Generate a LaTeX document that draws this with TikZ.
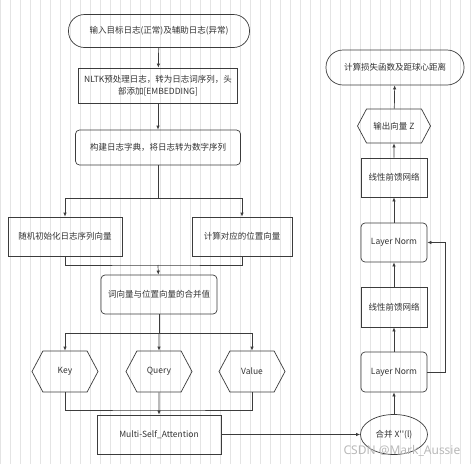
\documentclass[tikz,border=0pt]{standalone}
\usepackage{fontspec}
\newfontfamily\cjk{Noto Sans CJK SC}
\usetikzlibrary{shapes.geometric,shapes.symbols,arrows.meta}
\definecolor{linec}{HTML}{3C3C3C}
\definecolor{textc}{HTML}{333333}
\definecolor{gridc}{HTML}{E4E4E4}
\tikzset{
  base/.style={draw=linec, line width=0.7pt, text=textc, align=center,
    inner sep=1pt, font=\cjk\fontsize{8.5}{11.5}\selectfont},
  term/.style={base, rectangle, rounded corners=16pt},
  proc/.style={base, rectangle},
  rproc/.style={base, rectangle, rounded corners=4pt},
  hexa/.style={base, signal, signal to=east and west, signal pointer angle=124},
  merge/.style={base, ellipse},
  link/.style={draw=linec, line width=0.7pt},
  arrow/.style={link, -{Latex[length=4pt,width=3.5pt]}},
}
\begin{document}
\begin{tikzpicture}[x=1pt, y=-1pt]
    \fill[white] (0,0) rectangle (474,464);
    \useasboundingbox (0,0) rectangle (474,464);
    \draw[gridc, line width=0.4pt] (0,0) grid[step=10] (474,464);
    % left column
    \node[term,  minimum width=181pt, minimum height=33pt] (start)   at (159,31)    {输入目标日志(正常)及辅助日志(异常)};
    \node[proc,  minimum width=159pt, minimum height=35pt] (nltk)    at (158,85.5)  {NLTK预处理日志，转为日志词序列，头\\部添加[EMBEDDING]};
    \node[rproc, minimum width=165pt, minimum height=35pt] (build)   at (158,147.5) {构建日志字典，将日志转为数字序列};
    \node[proc,  minimum width=114pt, minimum height=39pt] (randvec) at (65,236.5)  {随机初始化日志序列向量};
    \node[proc,  minimum width=100pt, minimum height=39pt] (posvec)  at (242,236.5) {计算对应的位置向量};
    \node[rproc, minimum width=116pt, minimum height=39pt] (sumvec)  at (159,294.5) {词向量与位置向量的合并值};
    \node[hexa,  minimum width=66pt,  minimum height=41pt] (key)     at (65,371.5)  {Key};
    \node[hexa,  minimum width=66pt,  minimum height=41pt] (query)   at (159,371.5) {Query};
    \node[hexa,  minimum width=66pt,  minimum height=41pt] (value)   at (252,371.5) {Value};
    \node[proc,  minimum width=124pt, minimum height=39pt] (attn)    at (159,434.5) {Multi-Self\_Attention};
    % right column
    \node[merge, minimum width=67pt,  minimum height=40pt] (concat)  at (394,434.5) {合并 X''(l)};
    \node[rproc, minimum width=66pt,  minimum height=40pt] (norm1)   at (394,372)   {Layer Norm};
    \node[proc,  minimum width=66pt,  minimum height=40pt] (ffn1)    at (394,307)   {线性前馈网络};
    \node[rproc, minimum width=66pt,  minimum height=39pt] (norm2)   at (394,242.5) {Layer Norm};
    \node[proc,  minimum width=66pt,  minimum height=39pt] (ffn2)    at (394,177.5) {线性前馈网络};
    \node[hexa,  minimum width=73pt,  minimum height=34pt] (outz)    at (394,126)   {输出向量 Z};
    \node[term,  minimum width=138pt, minimum height=35pt, rounded corners=17pt] (loss) at (395,67.5) {计算损失函数及距球心距离};
    \node[text=gray!55, font=\fontspec{Noto Sans}\fontsize{12}{14}\selectfont] (mark) at (402,451) {CSDN @Mark\_Aussie};
    % branch points
    \coordinate (split1) at (158,198);
    \coordinate (join1)  at (158,265);
    \coordinate (split2) at (159,333);
    \coordinate (join2)  at (159,410);
    % connectors
    \draw[arrow] (start) -- (nltk);
    \draw[arrow] (nltk) -- (build);
    \draw[link]  (build) -- (split1);
    \draw[arrow] (split1) -| (randvec);
    \draw[arrow] (split1) -| (posvec);
    \draw[link]  (randvec) |- (join1) -| (posvec);
    \draw[arrow] (join1) -- (sumvec);
    \draw[link]  (sumvec) -- (split2);
    \draw[arrow] (split2) -| (key);
    \draw[arrow] (split2) -- (query);
    \draw[arrow] (split2) -| (value);
    \draw[link]  (key) |- (join2) -| (value);
    \draw[arrow] (query) -- (attn);
    \draw[arrow] (attn) -- (concat);
    \draw[arrow] (concat) -- (norm1);
    \draw[arrow] (norm1) -- (ffn1);
    \draw[arrow] (ffn1) -- (norm2);
    \draw[arrow] (norm2) -- (ffn2);
    \draw[arrow] (ffn2) -- (outz);
    \draw[arrow] (outz) -- (loss);
    \draw[arrow] (norm1.east) -- ++(18,0) |- (norm2.east);
\end{tikzpicture}
\end{document}
